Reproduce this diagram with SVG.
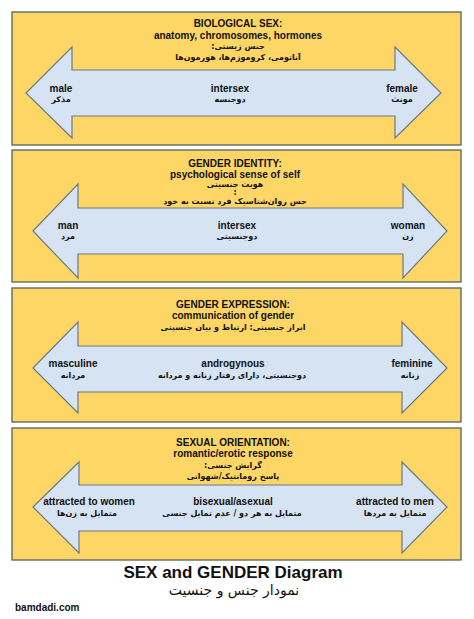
<svg xmlns="http://www.w3.org/2000/svg" width="474" height="619" viewBox="0 0 474 619">
<style>
.panel{fill:#FDD666;stroke:#56625f;stroke-width:1.3}
.arrow{fill:#D5E3F2;stroke:#6e7a82;stroke-width:1.2}
.en{font-family:"Liberation Sans",Arial,sans-serif;font-weight:bold;font-size:10px;fill:#111;text-anchor:middle}
.fa{font-family:"DejaVu Sans",sans-serif;font-weight:bold;font-size:8px;fill:#111;text-anchor:middle;direction:rtl;unicode-bidi:embed}
</style>
<rect width="474" height="619" fill="#ffffff"/>
<g id="biological-sex">
<rect class="panel" x="12" y="12" width="449" height="133"/>
<polygon class="arrow" points="26,93 72,47 72,70 395,70 395,47 441,93 395,138 395,116 72,116 72,138"/>
<text class="en" x="238" y="27">BIOLOGICAL SEX:</text>
<text class="en" x="238" y="39">anatomy, chromosomes, hormones</text>
<text class="fa" x="238" y="49">جنس زیستی:</text>
<text class="fa" x="238" y="60">آناتومی، کروموزم‌ها، هورمون‌ها</text>
<text class="en" x="61" y="92">male</text>
<text class="fa" x="61" y="102">مذکر</text>
<text class="en" x="230" y="92">intersex</text>
<text class="fa" x="230" y="102">دوجنسه</text>
<text class="en" x="402" y="92">female</text>
<text class="fa" x="402" y="102">مونث</text>
</g>
<g id="gender-identity">
<rect class="panel" x="12" y="150" width="449" height="132"/>
<polygon class="arrow" points="33,231 78,184 78,208 403,208 403,184 447,231 403,278 403,254 78,254 78,278"/>
<text class="en" x="235" y="167">GENDER IDENTITY:</text>
<text class="en" x="235" y="178">psychological sense of self</text>
<text class="fa" x="235" y="187">هویت جنسیتی</text>
<text class="fa" x="235" y="195">:</text>
<text class="fa" x="235" y="204">حس روان‌شناسیک فرد نسبت به خود</text>
<text class="en" x="68" y="229">man</text>
<text class="fa" x="68" y="239">مرد</text>
<text class="en" x="237" y="229">intersex</text>
<text class="fa" x="237" y="239">دوجنسیتی</text>
<text class="en" x="408" y="229">woman</text>
<text class="fa" x="408" y="239">زن</text>
</g>
<g id="gender-expression">
<rect class="panel" x="12" y="288" width="449" height="134"/>
<polygon class="arrow" points="33,368 78,322 78,346 402,346 402,322 447,368 402,413 402,392 78,392 78,413"/>
<text class="en" x="233" y="308">GENDER EXPRESSION:</text>
<text class="en" x="233" y="319">communication of gender</text>
<text class="fa" x="233" y="330">ابراز جنسیتی: ارتباط و بیان جنسیتی</text>
<text class="en" x="73" y="367">masculine</text>
<text class="fa" x="73" y="378">مردانه</text>
<text class="en" x="233" y="367">androgynous</text>
<text class="fa" x="232" y="378">دوجنسیتی، دارای رفتار زنانه و مردانه</text>
<text class="en" x="412" y="367">feminine</text>
<text class="fa" x="410" y="378">زنانه</text>
</g>
<g id="sexual-orientation">
<rect class="panel" x="12" y="428" width="449" height="132"/>
<polygon class="arrow" points="33,507 79,462 79,485 402,485 402,462 447,507 402,553 402,531 79,531 79,553"/>
<text class="en" x="233" y="446">SEXUAL ORIENTATION:</text>
<text class="en" x="233" y="457">romantic/erotic response</text>
<text class="fa" x="233" y="468">گرایش جنسی:</text>
<text class="fa" x="233" y="479">پاسخ رومانتیک/شهوانی</text>
<text class="en" x="89" y="505">attracted to women</text>
<text class="fa" x="87" y="516">متمایل به زن‌ها</text>
<text class="en" x="233" y="505">bisexual/asexual</text>
<text class="fa" x="232" y="516">متمایل به هر دو / عدم تمایل جنسی</text>
<text class="en" x="395" y="505">attracted to men</text>
<text class="fa" x="395" y="516">متمایل به مردها</text>
</g>
<g id="footer">
<text x="233" y="578" style="font-family:'Liberation Sans',Arial,sans-serif;font-weight:bold;font-size:17px;fill:#111;text-anchor:middle">SEX and GENDER Diagram</text>
<text x="234" y="595" style="font-family:'DejaVu Sans',sans-serif;font-size:14px;fill:#111;text-anchor:middle;direction:rtl;unicode-bidi:embed">نمودار جنس و جنسیت</text>
<text x="15" y="611" style="font-family:'Liberation Sans',Arial,sans-serif;font-weight:bold;font-size:10px;fill:#111">bamdadi.com</text>
</g>
<g id="connectors"/>
</svg>
